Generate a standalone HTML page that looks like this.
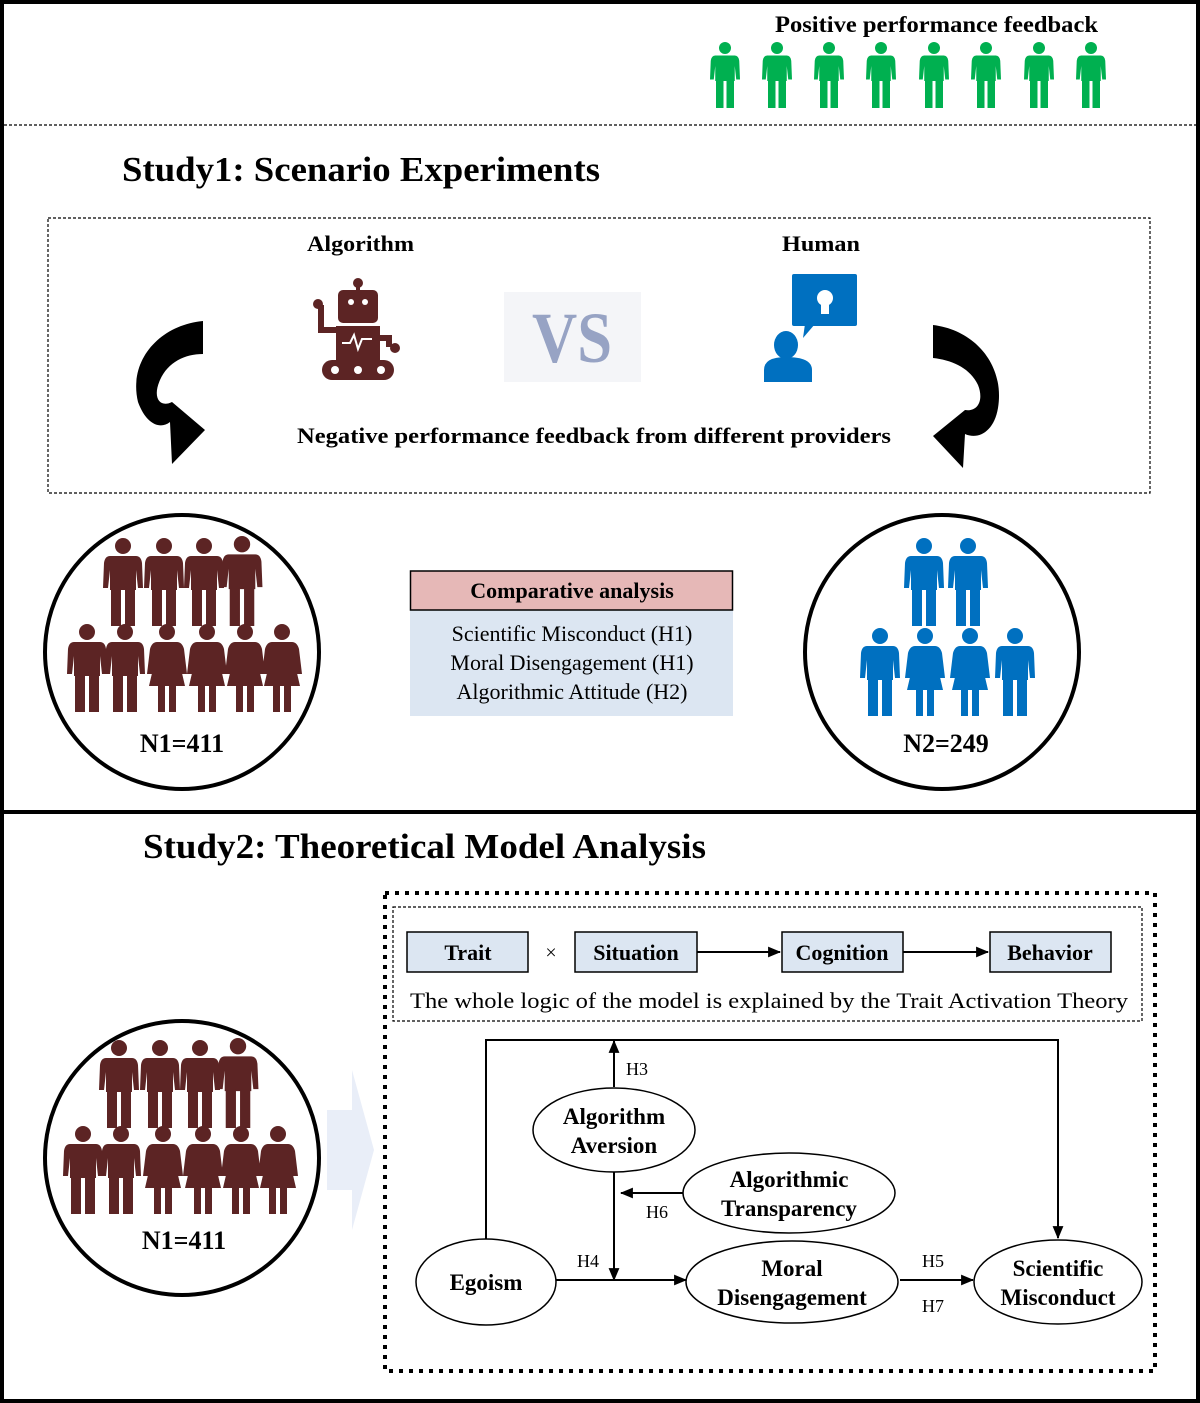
<!DOCTYPE html>
<html><head><meta charset="utf-8"><style>
html,body{margin:0;padding:0;background:#fff;}
svg{display:block;}
text{font-family:"Liberation Serif",serif;}
</style></head><body>
<svg width="1200" height="1403" viewBox="0 0 1200 1403" xmlns="http://www.w3.org/2000/svg">
<defs>
<symbol id="m" viewBox="0 0 40 88">
<circle cx="20" cy="8" r="8"/>
<path d="M7,18 H33 Q38,18 39,25 L40,50 H35 L33,32 V52 H7 V32 L5,50 H0 L1,25 Q2,18 7,18 Z"/>
<rect x="8" y="50" width="10" height="38"/><rect x="22" y="50" width="10" height="38"/>
</symbol>
<symbol id="f" viewBox="0 0 40 88">
<circle cx="20" cy="8" r="8"/>
<path d="M10,18 H30 Q35,18 37,25 L40,50 H35 L31,32 L38,62 H2 L9,32 L5,50 H0 L3,25 Q5,18 10,18 Z"/>
<rect x="11" y="60" width="7" height="28"/><rect x="22" y="60" width="7" height="28"/>
</symbol>
<marker id="ar" viewBox="0 0 12 10" refX="11" refY="5" markerWidth="13" markerHeight="11" markerUnits="userSpaceOnUse" orient="auto"><path d="M0,0 L12,5 L0,10 Z" fill="#000"/></marker>
</defs>
<rect x="2" y="2" width="1196" height="1399" fill="#fff" stroke="#000" stroke-width="4"/>
<line x1="0" y1="812" x2="1200" y2="812" stroke="#000" stroke-width="4"/>
<line x1="4" y1="125" x2="1196" y2="125" stroke="#000" stroke-width="1.2" stroke-dasharray="3,2"/>
<text x="775" y="32" font-size="23" font-weight="bold" textLength="323" lengthAdjust="spacingAndGlyphs">Positive performance feedback</text>
<g fill="#00b050">
<use href="#m" x="708" y="42" width="34" height="66"/><use href="#m" x="760" y="42" width="34" height="66"/><use href="#m" x="812" y="42" width="34" height="66"/><use href="#m" x="864" y="42" width="34" height="66"/><use href="#m" x="917" y="42" width="34" height="66"/><use href="#m" x="969" y="42" width="34" height="66"/><use href="#m" x="1022" y="42" width="34" height="66"/><use href="#m" x="1074" y="42" width="34" height="66"/>
</g>
<text x="122" y="181" font-size="35" font-weight="bold" textLength="478" lengthAdjust="spacingAndGlyphs">Study1: Scenario Experiments</text>
<rect x="48" y="218" width="1102" height="275" fill="none" stroke="#000" stroke-width="1.2" stroke-dasharray="3,2"/>
<text x="307" y="251" font-size="22" font-weight="bold" textLength="107" lengthAdjust="spacingAndGlyphs">Algorithm</text>
<text x="782" y="251" font-size="22" font-weight="bold" textLength="78" lengthAdjust="spacingAndGlyphs">Human</text>
<!-- robot -->
<g fill="#5c2424">
<circle cx="358" cy="283" r="5"/><rect x="356" y="283" width="4" height="8"/>
<rect x="338" y="290" width="40" height="33" rx="5"/>
<rect x="336" y="326" width="44" height="38"/>
<rect x="322" y="360" width="72" height="20" rx="10"/>
<path d="M318,305 h6 v22 h14 v6 h-20 z"/><circle cx="318" cy="304" r="5"/>
<path d="M378,335 h14 v12 h-6 v-6 h-8 z"/><circle cx="395" cy="348" r="5"/>
</g>
<g fill="#fff"><circle cx="351" cy="302" r="3"/><circle cx="365" cy="302" r="3"/><circle cx="335" cy="370" r="4"/><circle cx="358" cy="370" r="4"/><circle cx="381" cy="370" r="4"/></g>
<path d="M342,343 h8 l4,-8 l4,14 l4,-10 h10" stroke="#fff" stroke-width="2" fill="none"/>
<rect x="504" y="292" width="137" height="90" fill="#f4f5f8"/>
<text x="572" y="362" font-size="72" font-weight="bold" fill="#97a3c4" text-anchor="middle" font-family="Liberation Sans,sans-serif" textLength="80" lengthAdjust="spacingAndGlyphs">VS</text>
<!-- human -->
<g fill="#0070c0">
<rect x="792" y="274" width="65" height="52" rx="2"/><path d="M805,324 l10,0 l-12,14 z"/>
<ellipse cx="786" cy="345" rx="12" ry="14"/><path d="M764,382 V370 Q764,357 786,357 Q812,357 812,370 V382 Z"/>
</g>
<circle cx="825" cy="298" r="8" fill="#fff"/><rect x="821" y="304" width="8" height="10" fill="#fff"/>
<!-- curved arrows -->
<path d="M203,321 C160,325 128,360 138,402 C146,424 160,430 170,422 L172,464 L205,430 L172,402 C160,408 152,398 160,380 C168,362 185,354 203,354 Z" fill="#000"/>
<path d="M933,325 C975,330 1005,365 998,408 C994,432 978,440 965,434 L963,468 L933,436 L965,410 C978,412 984,400 978,385 C970,368 952,360 933,358 Z" fill="#000"/>
<text x="297" y="443" font-size="22" font-weight="bold" textLength="594" lengthAdjust="spacingAndGlyphs">Negative performance feedback from different providers</text>
<!-- circles -->
<circle cx="182" cy="652" r="137" fill="none" stroke="#000" stroke-width="4"/>
<g fill="#5c2424">
<use href="#m" x="102" y="538" width="42" height="88"/><use href="#m" x="143" y="538" width="42" height="88"/><use href="#m" x="183" y="538" width="42" height="88"/><use href="#m" x="221" y="536" width="42" height="90"/>
<use href="#m" x="66" y="624" width="42" height="88"/><use href="#m" x="104" y="624" width="42" height="88"/><use href="#f" x="146" y="624" width="42" height="88"/><use href="#f" x="186" y="624" width="42" height="88"/><use href="#f" x="224" y="624" width="42" height="88"/><use href="#f" x="261" y="624" width="42" height="88"/>
</g>
<text x="182" y="752" font-size="26" font-weight="bold" text-anchor="middle">N1=411</text>
<circle cx="942" cy="652" r="137" fill="none" stroke="#000" stroke-width="4"/>
<g fill="#0070c0">
<use href="#m" x="903" y="538" width="42" height="88"/><use href="#m" x="947" y="538" width="42" height="88"/>
<use href="#m" x="859" y="628" width="42" height="88"/><use href="#f" x="904" y="628" width="42" height="88"/><use href="#f" x="949" y="628" width="42" height="88"/><use href="#m" x="994" y="628" width="42" height="88"/>
</g>
<text x="946" y="752" font-size="26" font-weight="bold" text-anchor="middle">N2=249</text>
<rect x="410" y="610" width="323" height="106" fill="#dce6f2"/>
<rect x="410.5" y="571" width="322" height="39" fill="#e6b8b7" stroke="#000" stroke-width="1.5"/>
<text x="572" y="598" font-size="22" font-weight="bold" text-anchor="middle">Comparative analysis</text>
<text x="572" y="641" font-size="22" text-anchor="middle">Scientific Misconduct (H1)</text>
<text x="572" y="670" font-size="22" text-anchor="middle">Moral Disengagement (H1)</text>
<text x="572" y="699" font-size="22" text-anchor="middle">Algorithmic Attitude (H2)</text>
<!-- Study 2 -->
<text x="143" y="858" font-size="35" font-weight="bold" textLength="563" lengthAdjust="spacingAndGlyphs">Study2: Theoretical Model Analysis</text>
<circle cx="182" cy="1158" r="137" fill="none" stroke="#000" stroke-width="4"/>
<g fill="#5c2424">
<use href="#m" x="98" y="1040" width="42" height="88"/><use href="#m" x="139" y="1040" width="42" height="88"/><use href="#m" x="179" y="1040" width="42" height="88"/><use href="#m" x="217" y="1038" width="42" height="90"/>
<use href="#m" x="62" y="1126" width="42" height="88"/><use href="#m" x="100" y="1126" width="42" height="88"/><use href="#f" x="142" y="1126" width="42" height="88"/><use href="#f" x="182" y="1126" width="42" height="88"/><use href="#f" x="220" y="1126" width="42" height="88"/><use href="#f" x="257" y="1126" width="42" height="88"/>
</g>
<text x="184" y="1249" font-size="26" font-weight="bold" text-anchor="middle">N1=411</text>
<path d="M327,1110 H352 V1070 L374,1150 L352,1230 V1190 H327 Z" fill="#e9eef8"/>
<rect x="385" y="893" width="770" height="478" fill="none" stroke="#000" stroke-width="4" stroke-dasharray="4,6"/>
<rect x="393" y="907" width="749" height="114" fill="none" stroke="#000" stroke-width="1.2" stroke-dasharray="3,2"/>
<g fill="#dce6f2" stroke="#000" stroke-width="1.5">
<rect x="407" y="932" width="121" height="40"/><rect x="575" y="932" width="122" height="40"/><rect x="782" y="932" width="121" height="40"/><rect x="990" y="932" width="121" height="40"/>
</g>
<g font-size="22" font-weight="bold" text-anchor="middle">
<text x="468" y="960">Trait</text><text x="636" y="960">Situation</text><text x="842" y="960">Cognition</text><text x="1050" y="960">Behavior</text>
</g>
<text x="551" y="959" font-size="20" text-anchor="middle">×</text>
<g stroke="#000" stroke-width="2" fill="none" marker-end="url(#ar)">
<line x1="697" y1="952" x2="780" y2="952"/><line x1="903" y1="952" x2="988" y2="952"/>
</g>
<text x="410" y="1008" font-size="22" textLength="718" lengthAdjust="spacingAndGlyphs">The whole logic of the model is explained by the Trait Activation Theory</text>
<!-- model -->
<g stroke="#000" stroke-width="2" fill="none">
<polyline points="486,1243 486,1040 1058,1040 1058,1238" marker-end="url(#ar)"/>
<line x1="614" y1="1087" x2="614" y2="1041" marker-end="url(#ar)"/>
<line x1="614" y1="1170" x2="614" y2="1280" marker-end="url(#ar)"/>
<line x1="685" y1="1193" x2="621" y2="1193" marker-end="url(#ar)"/>
<line x1="556" y1="1280" x2="686" y2="1280" marker-end="url(#ar)"/>
<line x1="900" y1="1280" x2="973" y2="1280" marker-end="url(#ar)"/>
</g>
<g fill="#fff" stroke="#000" stroke-width="1.5">
<ellipse cx="614" cy="1130" rx="81" ry="42"/>
<ellipse cx="789" cy="1193" rx="106" ry="40"/>
<ellipse cx="486" cy="1282" rx="70" ry="43"/>
<ellipse cx="792" cy="1282" rx="106" ry="41"/>
<ellipse cx="1058" cy="1282" rx="84" ry="42"/>
</g>
<g font-size="23" font-weight="bold" text-anchor="middle">
<text x="614" y="1124">Algorithm</text><text x="614" y="1153">Aversion</text>
<text x="789" y="1187">Algorithmic</text><text x="789" y="1216">Transparency</text>
<text x="486" y="1290">Egoism</text>
<text x="792" y="1276">Moral</text><text x="792" y="1305">Disengagement</text>
<text x="1058" y="1276">Scientific</text><text x="1058" y="1305">Misconduct</text>
</g>
<g font-size="18" text-anchor="middle">
<text x="637" y="1075">H3</text><text x="657" y="1218">H6</text><text x="588" y="1267">H4</text><text x="933" y="1267">H5</text><text x="933" y="1312">H7</text>
</g>
</svg>
</body></html>
